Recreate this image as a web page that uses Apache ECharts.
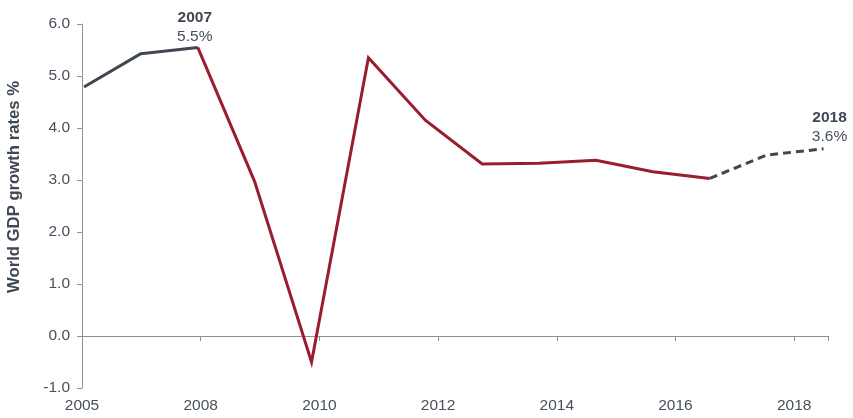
<!DOCTYPE html>
<html><head><meta charset="utf-8">
<script src="https://cdn.jsdelivr.net/npm/echarts@6/dist/echarts.min.js"></script>
<style>html,body{margin:0;padding:0;background:#fff}#c{width:853px;height:418px}</style>
</head><body><div id="c"></div>
<script>
const years = [2005,2006,2007,2008,2009,2010,2011,2012,2013,2014,2015,2016,2017,2018];
const growth = [4.79,5.43,5.55,2.97,-0.5,5.35,4.15,3.31,3.32,3.38,3.16,3.03,3.48,3.6];
const xTickLabels = ['2005','2008','2010','2012','2014','2016','2018'];
const yTicks = [-1,0,1,2,3,4,5,6];
const preCrisisEnd = 2007, forecastStart = 2016;
const annotations = {2007:['2007','5.5%'], 2018:['2018','3.6%']};

const RED = '#9b1b2f', SLATE = '#3f4852', TXT = '#46505b', AX = '#8f8f8f';
const FONT = 'Liberation Sans, Arial, sans-serif';

function seg(from, to){
  return years.map((y,i)=>{
    if (y < from || y > to) return [y, null];
    const a = annotations[y];
    if (a && (y===preCrisisEnd ? from===years[0] : to===years[years.length-1])) {
      return {value:[y, growth[i]], symbol:'circle', symbolSize:2,
        itemStyle:{color:'rgba(0,0,0,0)'},
        label:{show:true, formatter:'{b|'+a[0]+'}\n{v|'+a[1]+'}',
        position:'top', distance: 2, offset: y===2018 ? [6,0] : [-3,2],
        rich:{b:{fontFamily:FONT,fontSize:15.5,fontWeight:'bold',color:SLATE,lineHeight:19,align:'center'},
              v:{fontFamily:FONT,fontSize:15.5,color:TXT,lineHeight:19,align:'center'}}}};
    }
    return [y, growth[i]];
  });
}

const chart = echarts.init(document.getElementById('c'), null, {renderer:'canvas'});
chart.setOption({
  animation:false,
  grid:{left:82, right:25, top:24, bottom:30, containLabel:false, outerBoundsMode:'none'},
  xAxis:[
    {type:'value', min:2004.965, max:2018.079, show:false},
    {type:'value', min:0, max:6.285, interval:1, position:'bottom', offset:0,
     axisLine:{show:false, onZero:false},
     axisTick:{show:false},
     axisLabel:{show:true, margin:10, fontFamily:FONT, fontSize:15.5, color:TXT,
       formatter:(v)=>{const i=Math.round(v); return Math.abs(v-i)<1e-6 && xTickLabels[i] ? xTickLabels[i] : '';}},
     splitLine:{show:false}},
    {type:'value', min:0, max:6.285, interval:1, position:'bottom', offset:-52,
     axisLine:{show:true, onZero:false, lineStyle:{color:AX, width:1}},
     axisTick:{show:true, length:5, lineStyle:{color:AX}},
     axisLabel:{show:false},
     splitLine:{show:false}}
  ],
  yAxis:{type:'value', min:yTicks[0], max:yTicks[yTicks.length-1], interval:1,
    axisLine:{show:true, lineStyle:{color:AX}},
    axisTick:{show:true, length:5, lineStyle:{color:AX}},
    axisLabel:{margin:12, fontFamily:FONT, fontSize:15.5, color:TXT, formatter:(v)=>v.toFixed(1)},
    splitLine:{show:false}},
  graphic:[{type:'text', rotation:Math.PI/2, x:6, y:293,
    style:{text:'World GDP growth rates %', fontFamily:FONT, fontSize:16.7, fontWeight:'bold', fill:SLATE}}],
  series:[
    {type:'line', xAxisIndex:0, data:seg(years[0], preCrisisEnd), symbol:'none', connectNulls:false,
     lineStyle:{color:SLATE, width:3}, z:3},
    {type:'line', xAxisIndex:0, data:seg(preCrisisEnd, forecastStart), symbol:'none',
     lineStyle:{color:RED, width:3, join:'miter'}, z:3},
    {type:'line', xAxisIndex:0, data:seg(forecastStart, years[years.length-1]), symbol:'none',
     lineStyle:{color:SLATE, width:3, type:[8,5]}, z:3}
  ]
});
</script></body></html>
